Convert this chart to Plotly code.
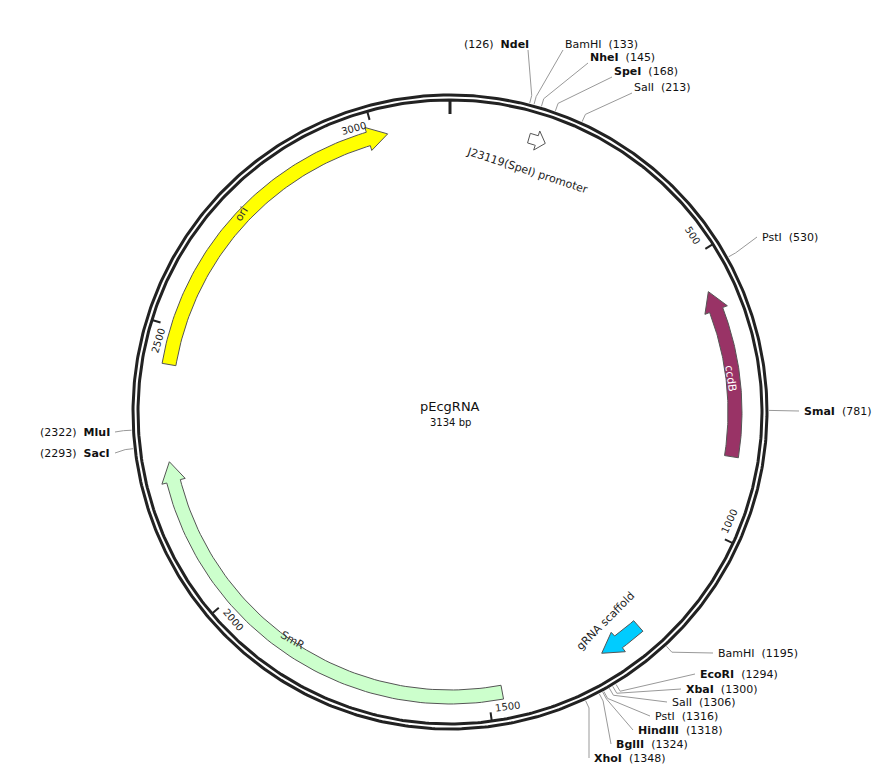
import numpy as np
import plotly.graph_objects as go

# plasmid data
plasmid_name = "pEcgRNA"
plasmid_len = 3134

feat_names = ["ori", "J23119(SpeI) promoter", "ccdB", "gRNA scaffold", "SmR"]
feat_start = [2434, 140, 566, 1207, 1475]
feat_end = [3024, 170, 862, 1287, 2263]
feat_dir = [1, 1, -1, 1, 1]
feat_fill = ["#ffff00", "#ffffff", "#993366", "#00ccff", "#ccffcc"]

site_names = ["NdeI", "BamHI", "NheI", "SpeI", "SalI", "PstI", "SmaI", "BamHI", "EcoRI",
              "XbaI", "SalI", "PstI", "HindIII", "BglII", "XhoI", "SacI", "MluI"]
site_pos = [126, 133, 145, 168, 213, 530, 781, 1195, 1294, 1300, 1306, 1316, 1318, 1324,
            1348, 2293, 2322]
site_bold = [1, 0, 1, 1, 0, 0, 1, 0, 1, 1, 0, 0, 1, 1, 1, 1, 1]

tick_pos = [500, 1000, 1500, 2000, 2500, 3000]

# layout (pixel positions of site labels)
lab_xy = [(531, 44), (563, 44), (588, 57), (612, 71), (632, 87), (760, 237), (802, 411),
          (716, 653), (698, 674), (684, 689), (670, 702), (653, 716), (636, 730),
          (614, 744), (592, 758), (112, 453), (112, 432)]

CX, CY = 450, 412
R_OUT, R_IN = 317, 312
FONT = "DejaVu Sans"
OFF = 8  # page body offset


def ang(bp):
    return np.radians(bp / plasmid_len * 360.0)


def pt(bp, r):
    a = ang(bp)
    return CX + r * np.sin(a), CY - r * np.cos(a)


fig = go.Figure()

t = np.linspace(0, plasmid_len, 600)
for r in (R_OUT, R_IN):
    xs, ys = pt(t, r)
    fig.add_trace(go.Scatter(x=xs, y=ys, mode="lines", line=dict(color="#222", width=3),
                             hoverinfo="skip"))


def arrow(s, e, d, r, w, hw, head_px):
    head_bp = head_px / (2 * np.pi * r) * plasmid_len
    head_bp = min(head_bp, (e - s) * 0.7)
    if d == 1:
        body = np.linspace(s, e - head_bp, 80)
        tip, base = e, e - head_bp
    else:
        body = np.linspace(e, s + head_bp, 80)
        tip, base = s, s + head_bp
    xo, yo = pt(body, r + w / 2)
    xi, yi = pt(body[::-1], r - w / 2)
    hx1, hy1 = pt(base, r + hw / 2)
    tx, ty = pt(tip, r)
    hx2, hy2 = pt(base, r - hw / 2)
    X = list(xo) + [hx1, tx, hx2] + list(xi) + [xo[0]]
    Y = list(yo) + [hy1, ty, hy2] + list(yi) + [yo[0]]
    return X, Y


for i, nm in enumerate(feat_names):
    if nm.startswith("J23119"):
        X, Y = arrow(feat_start[i], feat_end[i], feat_dir[i], 285, 10, 20, 9)
    else:
        X, Y = arrow(feat_start[i], feat_end[i], feat_dir[i], 285, 14, 24, 20)
    fig.add_trace(go.Scatter(x=X, y=Y, mode="lines", fill="toself", fillcolor=feat_fill[i],
                             line=dict(color="#555", width=1), hoverinfo="skip"))

# ticks
for p in tick_pos:
    x0, y0 = pt(p, R_IN - 1)
    x1, y1 = pt(p, R_IN - 9)
    fig.add_shape(type="line", x0=x0, y0=y0, x1=x1, y1=y1, line=dict(color="#222", width=2))
    lx, ly = pt(p - 30, R_IN - 12)
    a = p / plasmid_len * 360
    ta = a if (a < 90 or a > 270) else a - 180
    ta = (ta + 180) % 360 - 180
    fig.add_annotation(x=lx, y=ly, text=str(p), showarrow=False, textangle=ta,
                       font=dict(family=FONT, size=10, color="#222"))
x0, y0 = pt(0, R_IN - 1)
x1, y1 = pt(0, R_IN - 14)
fig.add_shape(type="line", x0=x0, y0=y0, x1=x1, y1=y1, line=dict(color="#222", width=3))

# restriction sites
for nm, p, b, (lx, ly) in zip(site_names, site_pos, site_bold, lab_xy):
    x0, y0 = pt(p, R_OUT + 2)
    x1, y1 = pt(p, R_OUT + 10)
    left = lx < CX
    ex = lx + 3 if left else lx - 3
    ey = ly
    if ly < 120:
        ey = ly + 6
        ex = lx - 3 if p == 126 else lx
    fig.add_trace(go.Scatter(x=[x0, x1, ex], y=[y0, y1, ey], mode="lines",
                             line=dict(color="#999", width=1), hoverinfo="skip"))
    name = f"<b>{nm}</b>" if b else nm
    if left or p == 126:
        txt, anc = f"({p})  {name}", "right"
    else:
        txt, anc = f"{name}  ({p})", "left"
    fig.add_annotation(x=lx, y=ly, text=txt, showarrow=False, xanchor=anc,
                       font=dict(family=FONT, size=11, color="#111"))

# feature labels
fig.add_annotation(x=241, y=214, text="ori", showarrow=False, textangle=-58,
                   font=dict(family=FONT, size=11, color="#333"))
fig.add_annotation(x=731, y=378, text="ccdB", showarrow=False, textangle=82,
                   font=dict(family=FONT, size=11, color="#fff"))
fig.add_annotation(x=293, y=640, text="SmR", showarrow=False, textangle=30,
                   font=dict(family=FONT, size=11, color="#333"))
fig.add_annotation(x=605, y=621, text="gRNA scaffold", showarrow=False, textangle=-45,
                   font=dict(family=FONT, size=11, color="#222"))
fig.add_annotation(x=527, y=170, text="J23119(SpeI) promoter", showarrow=False, textangle=18,
                   font=dict(family=FONT, size=11, color="#222"))

fig.add_annotation(x=CX, y=406, text=plasmid_name, showarrow=False,
                   font=dict(family=FONT, size=13, color="#111"))
fig.add_annotation(x=CX, y=422, text=f"{plasmid_len} bp", showarrow=False,
                   font=dict(family=FONT, size=10, color="#111"))

fig.update_layout(width=890, height=774, margin=dict(l=0, r=0, t=0, b=0),
                  showlegend=False, plot_bgcolor="white", paper_bgcolor="white",
                  xaxis=dict(range=[OFF, 890 + OFF], visible=False, fixedrange=True),
                  yaxis=dict(range=[774 + OFF, OFF], visible=False, fixedrange=True))

fig.write_html("out.html")
